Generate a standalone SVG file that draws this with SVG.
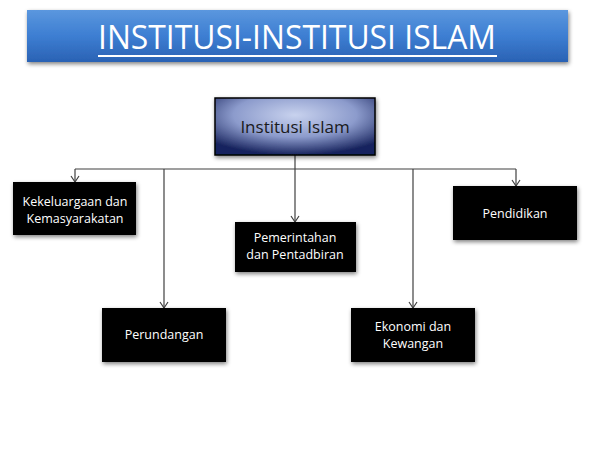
<svg xmlns="http://www.w3.org/2000/svg" width="600" height="450" viewBox="0 0 600 450">
<defs>
<linearGradient id="tg" x1="0" y1="0" x2="0" y2="1">
<stop offset="0" stop-color="#5b97de"/>
<stop offset="0.5" stop-color="#3d7ed2"/>
<stop offset="1" stop-color="#2a62b4"/>
</linearGradient>
<radialGradient id="rg" cx="0.5" cy="0.3" r="0.7">
<stop offset="0" stop-color="#c8d2ee"/>
<stop offset="0.55" stop-color="#8c9bcc"/>
<stop offset="1" stop-color="#18245e"/>
</radialGradient>
<filter id="sh" x="-10%" y="-20%" width="120%" height="150%">
<feGaussianBlur in="SourceAlpha" stdDeviation="2"/>
<feOffset dx="1" dy="2"/>
<feComponentTransfer><feFuncA type="linear" slope="0.5"/></feComponentTransfer>
<feMerge><feMergeNode/><feMergeNode in="SourceGraphic"/></feMerge>
</filter>
<marker id="ah" markerWidth="10" markerHeight="10" refX="8" refY="5" orient="auto" markerUnits="userSpaceOnUse">
<path d="M2,1 L8,5 L2,9" fill="none" stroke="#404040" stroke-width="1.2"/>
</marker>
</defs>
<style>
.box{fill:#000;}
.lbl{font-family:"Open Sans","Liberation Sans",sans-serif;font-size:12.5px;fill:#fff;text-anchor:middle;}
.con{fill:none;stroke:#404040;stroke-width:1.2;}
</style>
<rect width="600" height="450" fill="#fff"/>
<g id="title">
<rect x="27" y="10" width="541" height="52" fill="url(#tg)" filter="url(#sh)"/>
<text x="297" y="49" font-family="'Open Sans','Liberation Sans',sans-serif" font-size="33" fill="#fff" text-anchor="middle" textLength="398" lengthAdjust="spacingAndGlyphs">INSTITUSI-INSTITUSI ISLAM</text>
<line x1="98" y1="56" x2="497" y2="56" stroke="#fff" stroke-width="1.8"/>
</g>
<g id="connectors">
<line class="con" x1="295" y1="155" x2="295" y2="169"/>
<line class="con" x1="75" y1="169" x2="516" y2="169"/>
<line class="con" x1="75" y1="169" x2="75" y2="182" marker-end="url(#ah)"/>
<line class="con" x1="164" y1="169" x2="164" y2="308" marker-end="url(#ah)"/>
<line class="con" x1="295" y1="169" x2="295" y2="222" marker-end="url(#ah)"/>
<line class="con" x1="413" y1="169" x2="413" y2="308" marker-end="url(#ah)"/>
<line class="con" x1="516" y1="169" x2="516" y2="186" marker-end="url(#ah)"/>
</g>
<g id="root">
<rect x="215" y="98" width="160" height="57" fill="url(#rg)" stroke="#000" stroke-width="1.5" filter="url(#sh)"/>
<text x="295" y="133" font-family="'Open Sans','Liberation Sans',sans-serif" font-size="17" fill="#1a1a1a" text-anchor="middle">Institusi Islam</text>
</g>
<g id="kekeluargaan">
<rect class="box" x="13" y="182" width="123" height="53" filter="url(#sh)"/>
<text class="lbl" x="75" y="206">Kekeluargaan dan</text>
<text class="lbl" x="75" y="223">Kemasyarakatan</text>
</g>
<g id="pemerintahan">
<rect class="box" x="235" y="222" width="121" height="50" filter="url(#sh)"/>
<text class="lbl" x="295" y="242">Pemerintahan</text>
<text class="lbl" x="295" y="259">dan Pentadbiran</text>
</g>
<g id="pendidikan">
<rect class="box" x="453" y="186" width="124" height="54" filter="url(#sh)"/>
<text class="lbl" x="515" y="218">Pendidikan</text>
</g>
<g id="perundangan">
<rect class="box" x="102" y="308" width="124" height="54" filter="url(#sh)"/>
<text class="lbl" x="164" y="339">Perundangan</text>
</g>
<g id="ekonomi">
<rect class="box" x="351" y="308" width="124" height="54" filter="url(#sh)"/>
<text class="lbl" x="413" y="331">Ekonomi dan</text>
<text class="lbl" x="413" y="348">Kewangan</text>
</g>
</svg>
